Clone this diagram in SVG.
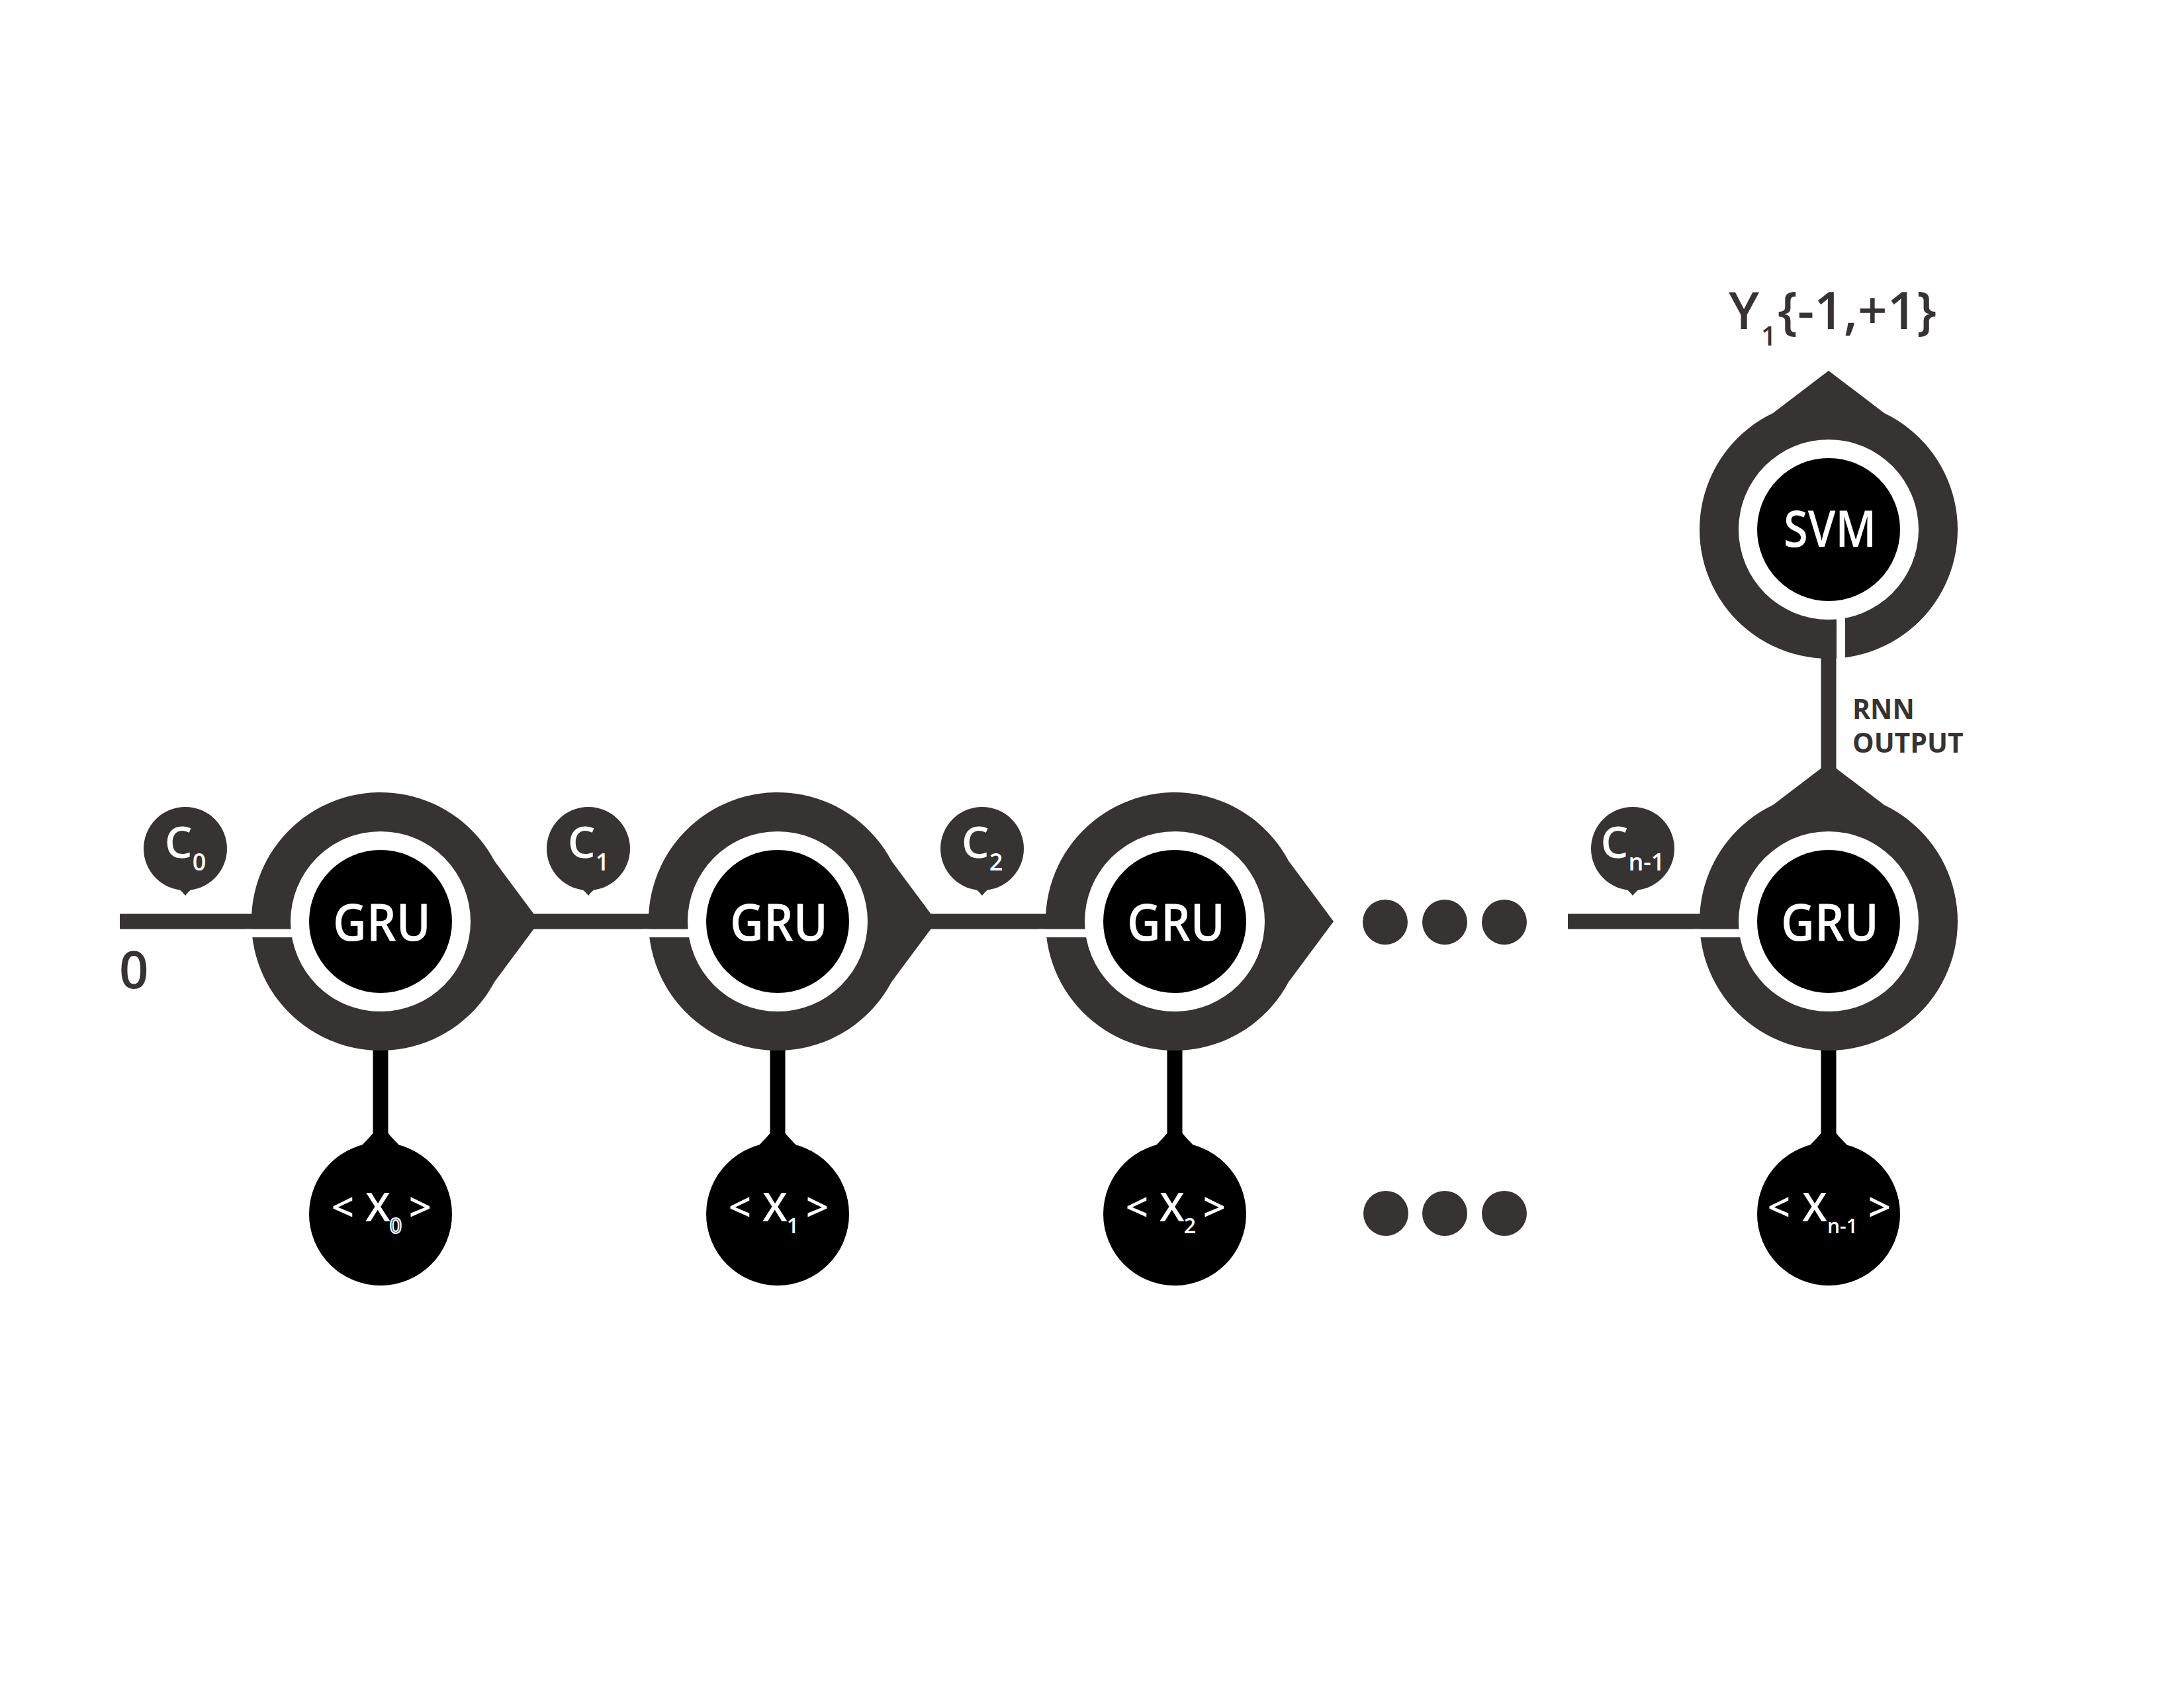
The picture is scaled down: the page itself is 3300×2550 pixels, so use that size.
<svg xmlns="http://www.w3.org/2000/svg" width="3300" height="2550" viewBox="0 0 3300 2550">
<style>
.ring{fill:#363332;fill-rule:evenodd}
.dk{fill:#363332}
.blk{fill:#000}
.wht{fill:#fff}
.t{font-family:"Open Sans","Liberation Sans",sans-serif;font-weight:600}
.b{font-weight:700}
.lbl{fill:#fff;text-anchor:middle}
.dt{fill:#363332}
</style>
<rect x="0" y="0" width="3300" height="2550" fill="#fff"/>
<g id="connectors">
  <rect class="dk" x="181" y="1380.5" width="257" height="23"/>
  <rect class="dk" x="800" y="1380.5" width="238" height="23"/>
  <rect class="dk" x="1400" y="1380.5" width="238" height="23"/>
  <rect class="dk" x="2369" y="1380.5" width="257" height="23"/>
  <rect class="dk" x="2751.5" y="940" width="23" height="260"/>
  <rect class="blk" x="563.5" y="1580" width="23" height="136"/>
  <rect class="blk" x="1163.5" y="1580" width="23" height="136"/>
  <rect class="blk" x="1763.5" y="1580" width="23" height="136"/>
  <rect class="blk" x="2751.5" y="1580" width="23" height="136"/>
</g>
<text class="t dt" x="180" y="1493" font-size="78">0</text>
<g id="gru0">
  <path class="ring" d="M747,1300.5 L815,1392 L747,1483.5 A195,195 0 1 1 747,1300.5 Z M711,1392 A136,136 0 1 0 439,1392 A136,136 0 1 0 711,1392 Z"/>
  <rect class="wht" x="370" y="1403.5" width="75" height="12.5"/>
  <circle class="blk" cx="575" cy="1392" r="108"/>
  <text class="t lbl" x="577" y="1421" font-size="78" textLength="148" lengthAdjust="spacingAndGlyphs">GRU</text>
</g>
<g id="gru1">
  <path class="ring" d="M1347,1300.5 L1415,1392 L1347,1483.5 A195,195 0 1 1 1347,1300.5 Z M1311,1392 A136,136 0 1 0 1039,1392 A136,136 0 1 0 1311,1392 Z"/>
  <rect class="wht" x="970" y="1403.5" width="75" height="12.5"/>
  <circle class="blk" cx="1175" cy="1392" r="108"/>
  <text class="t lbl" x="1177" y="1421" font-size="78" textLength="148" lengthAdjust="spacingAndGlyphs">GRU</text>
</g>
<g id="gru2">
  <path class="ring" d="M1947,1300.5 L2015,1392 L1947,1483.5 A195,195 0 1 1 1947,1300.5 Z M1911,1392 A136,136 0 1 0 1639,1392 A136,136 0 1 0 1911,1392 Z"/>
  <rect class="wht" x="1570" y="1403.5" width="75" height="12.5"/>
  <circle class="blk" cx="1775" cy="1392" r="108"/>
  <text class="t lbl" x="1777" y="1421" font-size="78" textLength="148" lengthAdjust="spacingAndGlyphs">GRU</text>
</g>
<g id="gru3">
  <path class="ring" d="M2679,1216 L2763,1152 L2847,1216 A195,195 0 1 1 2679,1216 Z M2899,1392 A136,136 0 1 0 2627,1392 A136,136 0 1 0 2899,1392 Z"/>
  <rect class="wht" x="2558" y="1403.5" width="75" height="12.5"/>
  <circle class="blk" cx="2763" cy="1392" r="108"/>
  <text class="t lbl" x="2765" y="1421" font-size="78" textLength="148" lengthAdjust="spacingAndGlyphs">GRU</text>
</g>
<g id="svm">
  <path class="ring" d="M2679,624 L2763,560 L2847,624 A195,195 0 1 1 2679,624 Z M2899,800 A136,136 0 1 0 2627,800 A136,136 0 1 0 2899,800 Z"/>
  <rect class="wht" x="2775" y="900" width="13" height="100"/>
  <circle class="blk" cx="2763" cy="800" r="108"/>
  <text class="t lbl" x="2765" y="826" font-size="76" textLength="140" lengthAdjust="spacingAndGlyphs">SVM</text>
</g>
<g id="output-label">
  <text class="t dt" font-size="78" x="2612" y="497">Y<tspan x="2661" y="522" font-size="40">1</tspan><tspan x="2686" y="497">{-1,+1}</tspan></text>
</g>
<g id="rnn-output-label">
  <text class="t b dt" font-size="41" x="2799" y="1086">RNN</text>
  <text class="t b dt" font-size="41" x="2799" y="1137">OUTPUT</text>
</g>
<g id="c0">
  <circle class="dk" cx="280" cy="1282" r="63"/>
  <path class="dk" d="M260,1338 Q272,1342 280,1353 Q288,1342 300,1338 Z"/>
  <text class="t lbl" x="280" y="1296" font-size="66">C<tspan font-size="36" dy="19">0</tspan></text>
</g>
<g id="c1">
  <circle class="dk" cx="889" cy="1282" r="63"/>
  <path class="dk" d="M869,1338 Q881,1342 889,1353 Q897,1342 909,1338 Z"/>
  <text class="t lbl" x="889" y="1296" font-size="66">C<tspan font-size="36" dy="19">1</tspan></text>
</g>
<g id="c2">
  <circle class="dk" cx="1484" cy="1282" r="63"/>
  <path class="dk" d="M1464,1338 Q1476,1342 1484,1353 Q1492,1342 1504,1338 Z"/>
  <text class="t lbl" x="1484" y="1296" font-size="66">C<tspan font-size="36" dy="19">2</tspan></text>
</g>
<g id="c3">
  <circle class="dk" cx="2467" cy="1282" r="63"/>
  <path class="dk" d="M2447,1338 Q2459,1342 2467,1353 Q2475,1342 2487,1338 Z"/>
  <text class="t lbl" x="2467" y="1296" font-size="66">C<tspan font-size="36" dy="19">n-1</tspan></text>
</g>
<g id="dots-top">
  <circle class="dk" cx="2093" cy="1393" r="34"/>
  <circle class="dk" cx="2183" cy="1393" r="34"/>
  <circle class="dk" cx="2273" cy="1393" r="34"/>
</g>
<g id="dots-bottom">
  <circle class="dk" cx="2094" cy="1833" r="34"/>
  <circle class="dk" cx="2183" cy="1833" r="34"/>
  <circle class="dk" cx="2273" cy="1833" r="34"/>
</g>
<g id="x0">
  <path class="blk" d="M541,1736 Q555,1722 563.5,1712 L586.5,1712 Q595,1722 609,1736 Z"/>
  <circle class="blk" cx="575" cy="1834" r="108"/>
  <text class="t lbl" x="518" y="1845" font-size="60">&lt;</text>
  <text class="t lbl" x="571" y="1845" font-size="60">X</text>
  <text class="t" x="598" y="1863" font-size="32" text-anchor="middle" fill="#0b5a96" stroke="#fff" stroke-width="2">0</text>
  <text class="t lbl" x="635" y="1845" font-size="60">&gt;</text>
</g>
<g id="x1">
  <path class="blk" d="M1141,1736 Q1155,1722 1163.5,1712 L1186.5,1712 Q1195,1722 1209,1736 Z"/>
  <circle class="blk" cx="1175" cy="1834" r="108"/>
  <text class="t lbl" x="1118" y="1845" font-size="60">&lt;</text>
  <text class="t lbl" x="1171" y="1845" font-size="60">X</text>
  <text class="t lbl" x="1198" y="1863" font-size="32">1</text>
  <text class="t lbl" x="1235" y="1845" font-size="60">&gt;</text>
</g>
<g id="x2">
  <path class="blk" d="M1741,1736 Q1755,1722 1763.5,1712 L1786.5,1712 Q1795,1722 1809,1736 Z"/>
  <circle class="blk" cx="1775" cy="1834" r="108"/>
  <text class="t lbl" x="1718" y="1845" font-size="60">&lt;</text>
  <text class="t lbl" x="1771" y="1845" font-size="60">X</text>
  <text class="t lbl" x="1798" y="1863" font-size="32">2</text>
  <text class="t lbl" x="1835" y="1845" font-size="60">&gt;</text>
</g>
<g id="x3">
  <path class="blk" d="M2729,1736 Q2743,1722 2751.5,1712 L2774.5,1712 Q2783,1722 2797,1736 Z"/>
  <circle class="blk" cx="2763" cy="1834" r="108"/>
  <text class="t lbl" x="2688" y="1845" font-size="60">&lt;</text>
  <text class="t lbl" x="2742" y="1845" font-size="60">X</text>
  <text class="t lbl" x="2784" y="1863" font-size="30">n-1</text>
  <text class="t lbl" x="2840" y="1845" font-size="60">&gt;</text>
</g>
</svg>
